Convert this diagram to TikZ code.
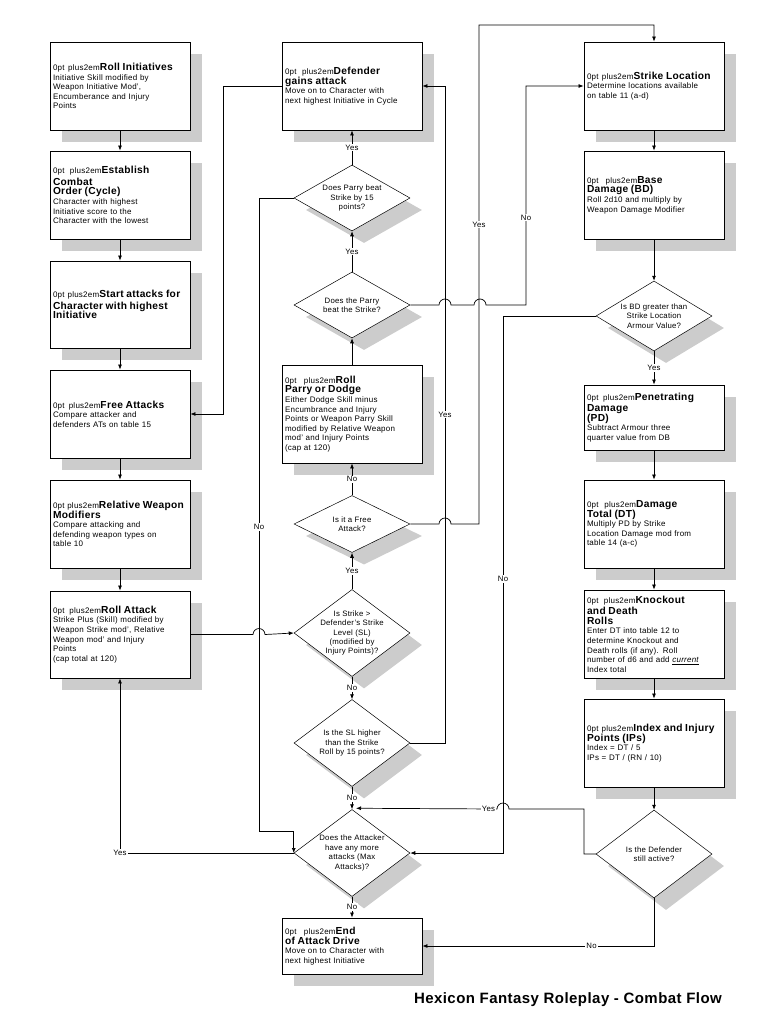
\documentclass[tikz,border=0pt]{standalone}
\usepackage{fontspec}
\setmainfont[LetterSpace=3]{Liberation Sans}
\usetikzlibrary{shapes.geometric,shadows,arrows.meta,calc}
\newcommand\hdf{\fontsize{10.2}{11.5}\selectfont\bfseries}
\hyphenpenalty=10000 \exhyphenpenalty=10000
\begin{document}
\begin{tikzpicture}[x=1pt,y=-1pt,
  shd/.style={drop shadow={shadow xshift=12pt,shadow yshift=-12pt,fill=black!20,opacity=1}},
  box/.style={draw,line width=0.9pt,fill=white,shd,minimum width=140pt,text width=134pt,align=center,inner sep=2pt,font=\fontsize{8}{9.6}\selectfont\hyphenpenalty=10000},
  dia/.style={draw,line width=0.5pt,fill=white,shd,diamond,inner sep=0pt},
  dtxt/.style={align=center,font=\fontsize{7.8}{9.4}\selectfont,inner sep=0pt},
  ar/.style={-{Latex[length=5pt,width=4pt]},line width=0.7pt},
  lab/.style={fill=white,inner sep=1pt,font=\fontsize{7.8}{8}\selectfont}]
\useasboundingbox (0,0) rectangle (768,1024);
% left column
\node[box,minimum height=88pt] (RI) at (120,86) {{\hdf Roll Initiatives}\\Initiative Skill modified by\\Weapon Initiative Mod',\\Encumberance and Injury\\Points\\[6pt]};
\node[box,minimum height=88pt] (EC) at (120,195) {{\hdf Establish Combat\\Order (Cycle)}\\Character with highest\\Initiative score to the\\Character with the lowest};
\node[box,minimum height=87pt] (SA) at (120,304.5) {{\hdf Start attacks for\\Character with highest\\Initiative}};
\node[box,minimum height=88pt] (FA) at (120,414) {{\hdf Free Attacks}\\Compare attacker and\\defenders ATs on table 15};
\node[box,minimum height=88pt] (RW) at (120,524) {{\hdf Relative Weapon\\Modifiers}\\Compare attacking and\\defending weapon types on\\table 10\\[8pt]};
\node[box,minimum height=87pt] (RA) at (120,634.5) {{\hdf Roll Attack}\\Strike Plus (Skill) modified by\\Weapon Strike mod', Relative\\Weapon mod' and Injury\\Points\\(cap total at 120)};
% middle column
\node[box,minimum height=88pt] (DG) at (352,86) {{\hdf Defender gains attack}\\Move on to Character with\\next highest Initiative in Cycle\\[12pt]};
\node[dia,minimum width=116pt,minimum height=66pt] (P15) at (352,198) {};
\node[dtxt] (P15t) at (P15.center) {Does Parry beat\\Strike by 15\\points?};
\node[dia,minimum width=116pt,minimum height=66pt] (PB) at (352,305) {};
\node[dtxt] (PBt) at (PB.center) {Does the Parry\\beat the Strike?};
\node[box,minimum height=98pt] (RP) at (352,414) {{\hdf Roll Parry or Dodge}\\Either Dodge Skill minus\\Encumbrance and Injury\\Points or Weapon Parry Skill\\modified by Relative Weapon\\mod' and Injury Points\\(cap at 120)};
\node[dia,minimum width=116pt,minimum height=57pt] (FR) at (352,524) {};
\node[dtxt] (FRt) at (FR.center) {Is it a Free\\Attack?};
\node[dia,minimum width=116pt,minimum height=87pt] (IS) at (352,633) {};
\node[dtxt] (ISt) at (IS.center) {Is Strike >\\Defender's Strike\\Level (SL)\\(modified by\\Injury Points)?};
\node[dia,minimum width=116pt,minimum height=87pt] (SH) at (352,743) {};
\node[dtxt] (SHt) at (SH.center) {Is the SL higher\\than the Strike\\Roll by 15 points?};
\node[dia,minimum width=116pt,minimum height=87pt] (AT) at (352,853) {};
\node[dtxt] (ATt) at (AT.center) {Does the Attacker\\have any more\\attacks (Max\\Attacks)?};
\node[box,minimum height=56pt] (EN) at (352,946) {{\hdf End of Attack Drive}\\Move on to Character with\\next highest Initiative};
% right column
\node[box,minimum height=88pt] (SL) at (654,86) {{\hdf Strike Location}\\Determine locations available\\on table 11 (a-d)\\[8pt]};
\node[box,minimum height=88pt] (BD) at (654,195) {{\hdf Base Damage (BD)}\\Roll 2d10 and multiply by\\Weapon Damage Modifier};
\node[dia,minimum width=116pt,minimum height=70pt] (BA) at (654,316) {};
\node[dtxt] (BAt) at (BA.center) {Is BD greater than\\Strike Location\\Armour Value?};
\node[box,minimum height=65pt] (PD) at (654,417.5) {{\hdf Penetrating Damage\\(PD)}\\Subtract Armour three\\quarter value from DB};
\node[box,minimum height=88pt] (DT) at (654,524) {{\hdf Damage Total (DT)}\\Multiply PD by Strike\\Location Damage mod from\\table 14 (a-c)\\[6pt]};
\node[box,minimum height=88pt] (KO) at (654,634) {{\hdf Knockout and Death\\Rolls}\\Enter DT into table 12 to\\determine Knockout and\\Death rolls (if any). Roll\\number of d6 and add \underline{\textit{current}}\\Index total};
\node[box,minimum height=88pt] (IX) at (654,743) {{\hdf Index and Injury\\Points (IPs)}\\Index = DT / 5\\IPs = DT / (RN / 10)};
\node[dia,minimum width=116pt,minimum height=88pt] (DA) at (654,854) {};
\node[dtxt] (DAt) at (DA.center) {Is the Defender\\still active?};
% title
\node[anchor=east,font=\fontsize{15}{17}\selectfont\bfseries,inner sep=0pt] (TT) at (722,1000) {Hexicon Fantasy Roleplay - Combat Flow};
% left chain
\draw[ar] (RI) -- (EC);
\draw[ar] (EC) -- (SA);
\draw[ar] (SA) -- (FA);
\draw[ar] (FA) -- (RW);
\draw[ar] (RW) -- (RA);
% middle chain
\draw[ar] (P15.north) -- node[lab]{Yes} (DG.south);
\draw[ar] (PB.north) -- node[lab]{Yes} (P15.south);
\draw[ar] (RP.north) -- (PB.south);
\draw[ar] (FR.north) -- node[lab]{No} (RP.south);
\draw[ar] (IS.north) -- node[lab]{Yes} (FR.south);
\draw[ar] (IS.south) -- node[lab]{No} (SH.north);
\draw[ar] (SH.south) -- node[lab]{No} (AT.north);
\draw[ar] (AT.south) -- node[lab]{No} (EN.north);
% right chain
\draw[ar] (SL) -- (BD);
\draw[ar] (BD.south) -- (BA.north);
\draw[ar] (BA.south) -- node[lab]{Yes} (PD.north);
\draw[ar] (PD) -- (DT);
\draw[ar] (DT) -- (KO);
\draw[ar] (KO) -- (IX);
\draw[ar] (IX.south) -- (DA.north);
% cross connectors
\draw[ar] (DG.west) -- (223,86) |- (FA.east);
\draw[ar] (RA.east) -- (253,634.5) arc[start angle=180,end angle=360,radius=6] -- (IS.west);
\draw[ar] (PB.east) -- (439,305) arc[start angle=180,end angle=360,radius=6] -- (474,305) arc[start angle=180,end angle=360,radius=6] -- (526,305) -- node[lab,pos=0.4]{No} (526,86) -- (SL.west);
\draw[ar] (FR.east) -- (439,524) arc[start angle=180,end angle=360,radius=6] -- (479,524) -- node[lab,pos=0.6]{Yes} (479,25) -| (SL.north);
\draw[ar] (SH.east) -- (445,743) -- node[lab,pos=0.5]{Yes} (445,86) -- (DG.east);
\draw[ar] (P15.west) -- (259,198) -- node[lab,pos=0.52]{No} (259,831) -| (AT.west);
\draw[ar] (BA.west) -- (503,316) -- node[lab,pos=0.49]{No} (503,853) -- (AT.east);
\draw[ar] (DA.west) -- (584,854) -- (584,809) -- (509,809) arc[start angle=360,end angle=180,radius=6] -- node[lab,pos=0.06]{Yes} ($(AT.north)+(4,-1)$);
\draw[ar] (DA.south) -- (654,946) -- node[lab,pos=0.27]{No} (EN.east);
\draw[ar] (AT.west) -- (120,853) node[lab]{Yes} -- (RA.south);
\end{tikzpicture}
\end{document}
